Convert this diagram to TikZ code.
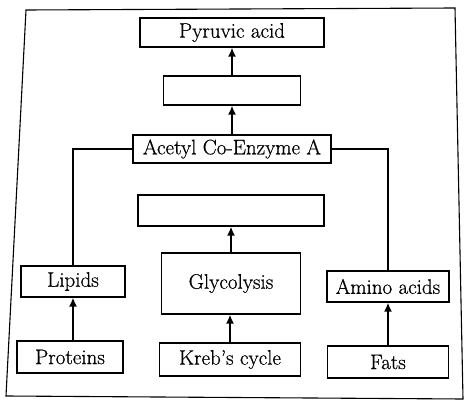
\documentclass[tikz,border=0pt]{standalone}
\usepackage{fontspec}
\newfontfamily\heavyrm{Latin Modern Roman}[FakeBold=0.6,Ligatures=TeX]
\usetikzlibrary{arrows.meta}
\begin{document}
\begin{tikzpicture}[x=1pt,y=-1pt,
  box/.style={draw,line width=1.3pt,inner sep=0pt,font=\heavyrm\fontsize{21}{24}\selectfont},
  arr/.style={line width=1.6pt,-{Latex[length=9pt,width=8pt]}},
  link/.style={line width=1.2pt}]
\useasboundingbox (0,0) rectangle (474,409);
\draw[line width=1.1pt] (26,10) -- (455,8) -- (463,399) -- (6,396) -- cycle;
\node[box,minimum width=184pt,minimum height=29pt] (pyr) at (232,32.5) {Pyruvic acid};
\node[box,minimum width=137pt,minimum height=29pt] (b2) at (232,90.5) {};
\node[box,minimum width=198pt,minimum height=28pt] (ace) at (232,149) {Acetyl Co-Enzyme A};
\node[box,minimum width=186pt,minimum height=31pt] (b4) at (231,210.5) {};
\node[box,minimum width=139pt,minimum height=61pt] (gly) at (231,283.5) {Glycolysis};
\node[box,minimum width=104pt,minimum height=31pt] (lip) at (73,281.5) {Lipids};
\node[box,minimum width=122pt,minimum height=31pt] (ami) at (388,286.5) {Amino acids};
\node[box,minimum width=106pt,minimum height=32pt] (pro) at (70,357) {Proteins};
\node[box,minimum width=141pt,minimum height=33pt] (kre) at (230,359.5) {Kreb’s cycle};
\node[box,minimum width=121pt,minimum height=32pt] (fat) at (388,362) {Fats};
\draw[arr] (b2.north) -- (b2.north |- pyr.south);
\draw[arr] (ace.north) -- (ace.north |- b2.south);
\draw[arr] (gly.north) -- (gly.north |- b4.south);
\draw[arr] (pro.north -| lip.south) -- (lip.south);
\draw[arr] (kre.north) -- (kre.north |- gly.south);
\draw[arr] (fat.north) -- (fat.north |- ami.south);
\draw[link] (ace.west) -| (lip.north);
\draw[link] (ace.east) -| (ami.north);
\end{tikzpicture}
\end{document}
